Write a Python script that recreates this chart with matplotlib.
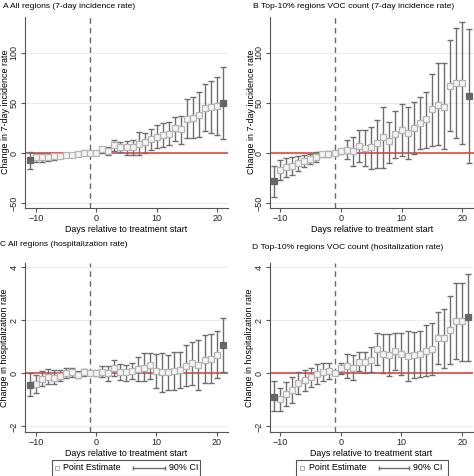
import numpy as np
import matplotlib
matplotlib.use("Agg")
import matplotlib.pyplot as plt
from matplotlib.patches import Rectangle

plt.rcParams['font.family'] = ['Liberation Sans', 'DejaVu Sans']

days = list(range(-11, 22))

# Panel A: All regions (7-day incidence rate)
a_est = [-7, -4, -4, -4.3, -3.3, -2.5, -2, -1.7, -1, 0, 0, 0.3, 4, 2.3, 8, 6, 5.6, 5.6, 9.3, 11, 13.6, 16, 18, 19, 24.6, 23.6, 34.5, 35.5, 38.5, 45, 46, 46.8, 49.8]
a_lo = [-16, -9, -8.5, -8, -6.5, -4.5, -4, -3.5, -3, -1.5, 0, -0.5, 0.3, -2.3, 2.3, 0.7, -2.3, -2.3, -2.3, 0, 2.7, 5, 6, 8, 12, 9, 14.6, 15, 16, 22, 20, 18, 14]
a_hi = [1.3, 0, 0, 0, 0, 0, 0, 0, 1, 1.5, 0, 1.2, 5.6, 6.3, 13.3, 11, 11.6, 13, 20.6, 20, 24, 28, 30, 31, 36, 37, 54, 56, 61, 69, 72, 75.7, 85.7]

# Panel B: Top-10% regions VOC count (7-day incidence rate)
b_est = [-28, -17, -14, -12.6, -10.3, -8, -6, -4, -1, -0.7, 0, 2, 3.3, 1.7, 6.6, 4.6, 6, 10.3, 16.3, 11.6, 18.6, 23, 20.3, 25, 30, 34, 44, 48.5, 46.5, 67.4, 69.8, 69.8, 57.5]
b_lo = [-43.5, -27, -23.6, -22, -18, -13.6, -11.3, -8.6, -4, -3.7, 0, -1, -5.6, -12.6, -9.3, -12.6, -15.6, -14.6, -14.6, -10, -5.3, -3.3, -6, -1, 4, 5.3, 7.3, 8.3, 4.3, 21.6, 14.6, 9.3, -9.6]
b_hi = [-12.6, -7, -5, -4.3, -3.3, -2, -1, 1, 1.3, 2, 0, 4, 12.6, 15.6, 23, 23, 26, 33.5, 46, 31, 42.5, 49, 46.5, 51.5, 56.5, 61, 79.4, 90, 90, 113, 125, 130.6, 123.6]

# Panel C: All regions (hospitalization rate)
c_est = [-0.45, -0.4, -0.21, -0.15, -0.16, -0.09, 0.01, 0.04, -0.06, 0.04, 0, 0.01, 0.04, 0.01, 0.22, 0.04, 0.04, 0.09, 0.16, 0.21, 0.3, 0.09, 0.04, 0.04, 0.09, 0.14, 0.29, 0.38, 0.31, 0.52, 0.56, 0.7, 1.08]
c_lo = [-0.84, -0.75, -0.49, -0.4, -0.4, -0.3, -0.18, -0.15, -0.19, -0.09, 0, -0.09, -0.15, -0.29, -0.09, -0.25, -0.3, -0.21, -0.29, -0.3, -0.21, -0.56, -0.71, -0.62, -0.62, -0.55, -0.46, -0.44, -0.64, -0.36, -0.36, -0.18, 0.06]
c_hi = [0, -0.06, 0.1, 0.16, 0.14, 0.14, 0.21, 0.21, 0.09, 0.16, 0, 0.12, 0.26, 0.29, 0.5, 0.35, 0.32, 0.4, 0.6, 0.75, 0.75, 0.72, 0.75, 0.69, 0.79, 0.81, 1.06, 1.2, 1.25, 1.45, 1.49, 1.6, 2.09]

# Panel D: Top-10% regions VOC count (hospitalization rate)
d_est = [-0.88, -0.96, -0.78, -0.61, -0.36, -0.26, -0.14, -0.04, 0.04, 0.1, 0, 0.19, 0.26, 0.22, 0.44, 0.44, 0.51, 0.91, 0.74, 0.7, 0.84, 0.74, 0.66, 0.7, 0.72, 0.86, 0.91, 1.32, 1.32, 1.62, 1.99, 1.96, 2.12]
d_lo = [-1.4, -1.4, -1.24, -1.12, -0.79, -0.65, -0.5, -0.41, -0.3, -0.21, 0, -0.02, -0.19, -0.24, 0.1, 0.01, 0.06, 0.32, 0.01, -0.1, 0.12, -0.06, -0.28, -0.18, -0.15, -0.1, -0.06, 0.35, 0.19, 0.35, 0.56, 0.47, 0.47]
d_hi = [-0.3, -0.55, -0.31, -0.15, 0.04, 0.12, 0.22, 0.36, 0.39, 0.39, 0, 0.4, 0.72, 0.69, 0.8, 0.8, 0.98, 1.54, 1.48, 1.48, 1.54, 1.51, 1.6, 1.56, 1.59, 1.81, 1.91, 2.32, 2.44, 2.91, 3.39, 3.41, 3.75]

titles = ["A All regions (7-day incidence rate)",
          "B Top-10% regions VOC count (7-day incidence rate)",
          "C All regions (hospitalization rate)",
          "D Top-10% regions VOC count (hositalization rate)"]
ylabels = ["Change in 7-day incidence rate", "Change in 7-day incidence rate",
           "Change in hospitalization rate", "Change in hospitalization rate"]
xlabel = "Days relative to treatment start"
legend_labels = ["Point Estimate", "90% CI"]

W, H = 474, 476
fig = plt.figure(figsize=(W / 100, H / 100), dpi=100)

def rect(l, r, t, b):
    return [l / W, 1 - b / H, (r - l) / W, (b - t) / H]

FS = 6.1
ERR = '#6e6e6e'
MK = '#b4b4b4'
FILLED = '#666666'
AXC = '#555555'

panels = [
    dict(r=rect(25, 228, 17, 208), xlim=(-11.8, 21.8), ylim=(-55, 136), yt=[-50, 0, 50, 100],
         est=a_est, lo=a_lo, hi=a_hi),
    dict(r=rect(270, 474, 17, 208), xlim=(-11.6, 21.9), ylim=(-55, 136), yt=[-50, 0, 50, 100],
         est=b_est, lo=b_lo, hi=b_hi),
    dict(r=rect(25, 228, 263, 432), xlim=(-11.8, 21.9), ylim=(-2.21, 4.16), yt=[-2, 0, 2, 4],
         est=c_est, lo=c_lo, hi=c_hi),
    dict(r=rect(270, 473, 263, 432), xlim=(-11.7, 21.8), ylim=(-2.21, 4.16), yt=[-2, 0, 2, 4],
         est=d_est, lo=d_lo, hi=d_hi),
]

x = np.array(days)
for i, p in enumerate(panels):
    ax = fig.add_axes(p['r'])
    est = np.array(p['est']); lo = np.array(p['lo']); hi = np.array(p['hi'])
    ax.set_xlim(*p['xlim']); ax.set_ylim(*p['ylim'])
    ax.set_yticks(p['yt'])
    ax.set_xticks([-10, 0, 10, 20])
    for yv in p['yt']:
        ax.axhline(yv, color='#ebebeb', lw=0.8, zorder=0)
    ax.axhline(0, color='#e2473f', lw=1.2, zorder=1)
    ax.axvline(-1, color='#6a6a6a', lw=1.0, ls=(0, (4, 3)), zorder=1)
    ci = x != -1
    ax.errorbar(x[ci], est[ci], yerr=[est[ci] - lo[ci], hi[ci] - est[ci]], fmt='none',
                ecolor=ERR, elinewidth=1.0, capsize=2.2, capthick=1.0, zorder=2)
    inner = (x > -11) & (x < 21)
    ax.plot(x[inner], est[inner], 's', ms=4.0, mfc='#f4f4f4', mec=MK, mew=0.9, zorder=3)
    ends = ~inner
    ax.plot(x[ends], est[ends], 's', ms=4.0, mfc=FILLED, mec=FILLED, mew=0.9, zorder=3)
    for s in ['top', 'right']:
        ax.spines[s].set_visible(False)
    for s in ['left', 'bottom']:
        ax.spines[s].set_color(AXC); ax.spines[s].set_linewidth(0.8)
    ax.tick_params(axis='both', colors=AXC, length=3, width=0.8, labelsize=FS + 0.4,
                   labelcolor='#222222', pad=1.5)
    for lab in ax.get_yticklabels():
        lab.set_rotation(90); lab.set_va('center')
    ax.set_xlabel(xlabel, fontsize=FS + 0.3, labelpad=1.0)

# titles and y labels
tpos = [(3, 6), (253, 6), (0, 245), (252, 247)]
for (tx, ty), t in zip(tpos, titles):
    fig.text(tx / W, 1 - ty / H, t, fontsize=FS, ha='left', va='center')
ypos = [(6, 112), (251, 112), (5, 348), (250, 348)]
for (tx, ty), t in zip(ypos, ylabels):
    fig.text(tx / W, 1 - ty / H, t, fontsize=FS + 0.3, ha='center', va='center', rotation=90)

# legends, drawn on an overlay in figure pixel coordinates
ov = fig.add_axes([0, 0, 1, 1])
ov.set_xlim(0, W); ov.set_ylim(H, 0); ov.axis('off')
legs = [dict(box=(52, 200), mk=57, t1=63, ci=(133, 165), t2=169),
        dict(box=(296, 448), mk=302, t1=309, ci=(379, 409), t2=413)]
ly = 467.5
for L in legs:
    ov.add_patch(Rectangle((L['box'][0], 460), L['box'][1] - L['box'][0], 15.5, fill=False,
                           ec=AXC, lw=0.8))
    ov.plot([L['mk']], [ly], 's', ms=3.0, mfc='white', mec=MK, mew=0.8)
    ov.text(L['t1'], ly, legend_labels[0], fontsize=FS + 0.3, va='center', ha='left')
    ov.plot(list(L['ci']), [ly, ly], color=ERR, lw=1.0)
    ov.plot(list(L['ci']), [ly, ly], ls='none', marker='|', ms=3.5, mew=1.0, color=ERR)
    ov.text(L['t2'], ly, legend_labels[1], fontsize=FS + 0.3, va='center', ha='left')

fig.savefig('out.png', dpi=100)
